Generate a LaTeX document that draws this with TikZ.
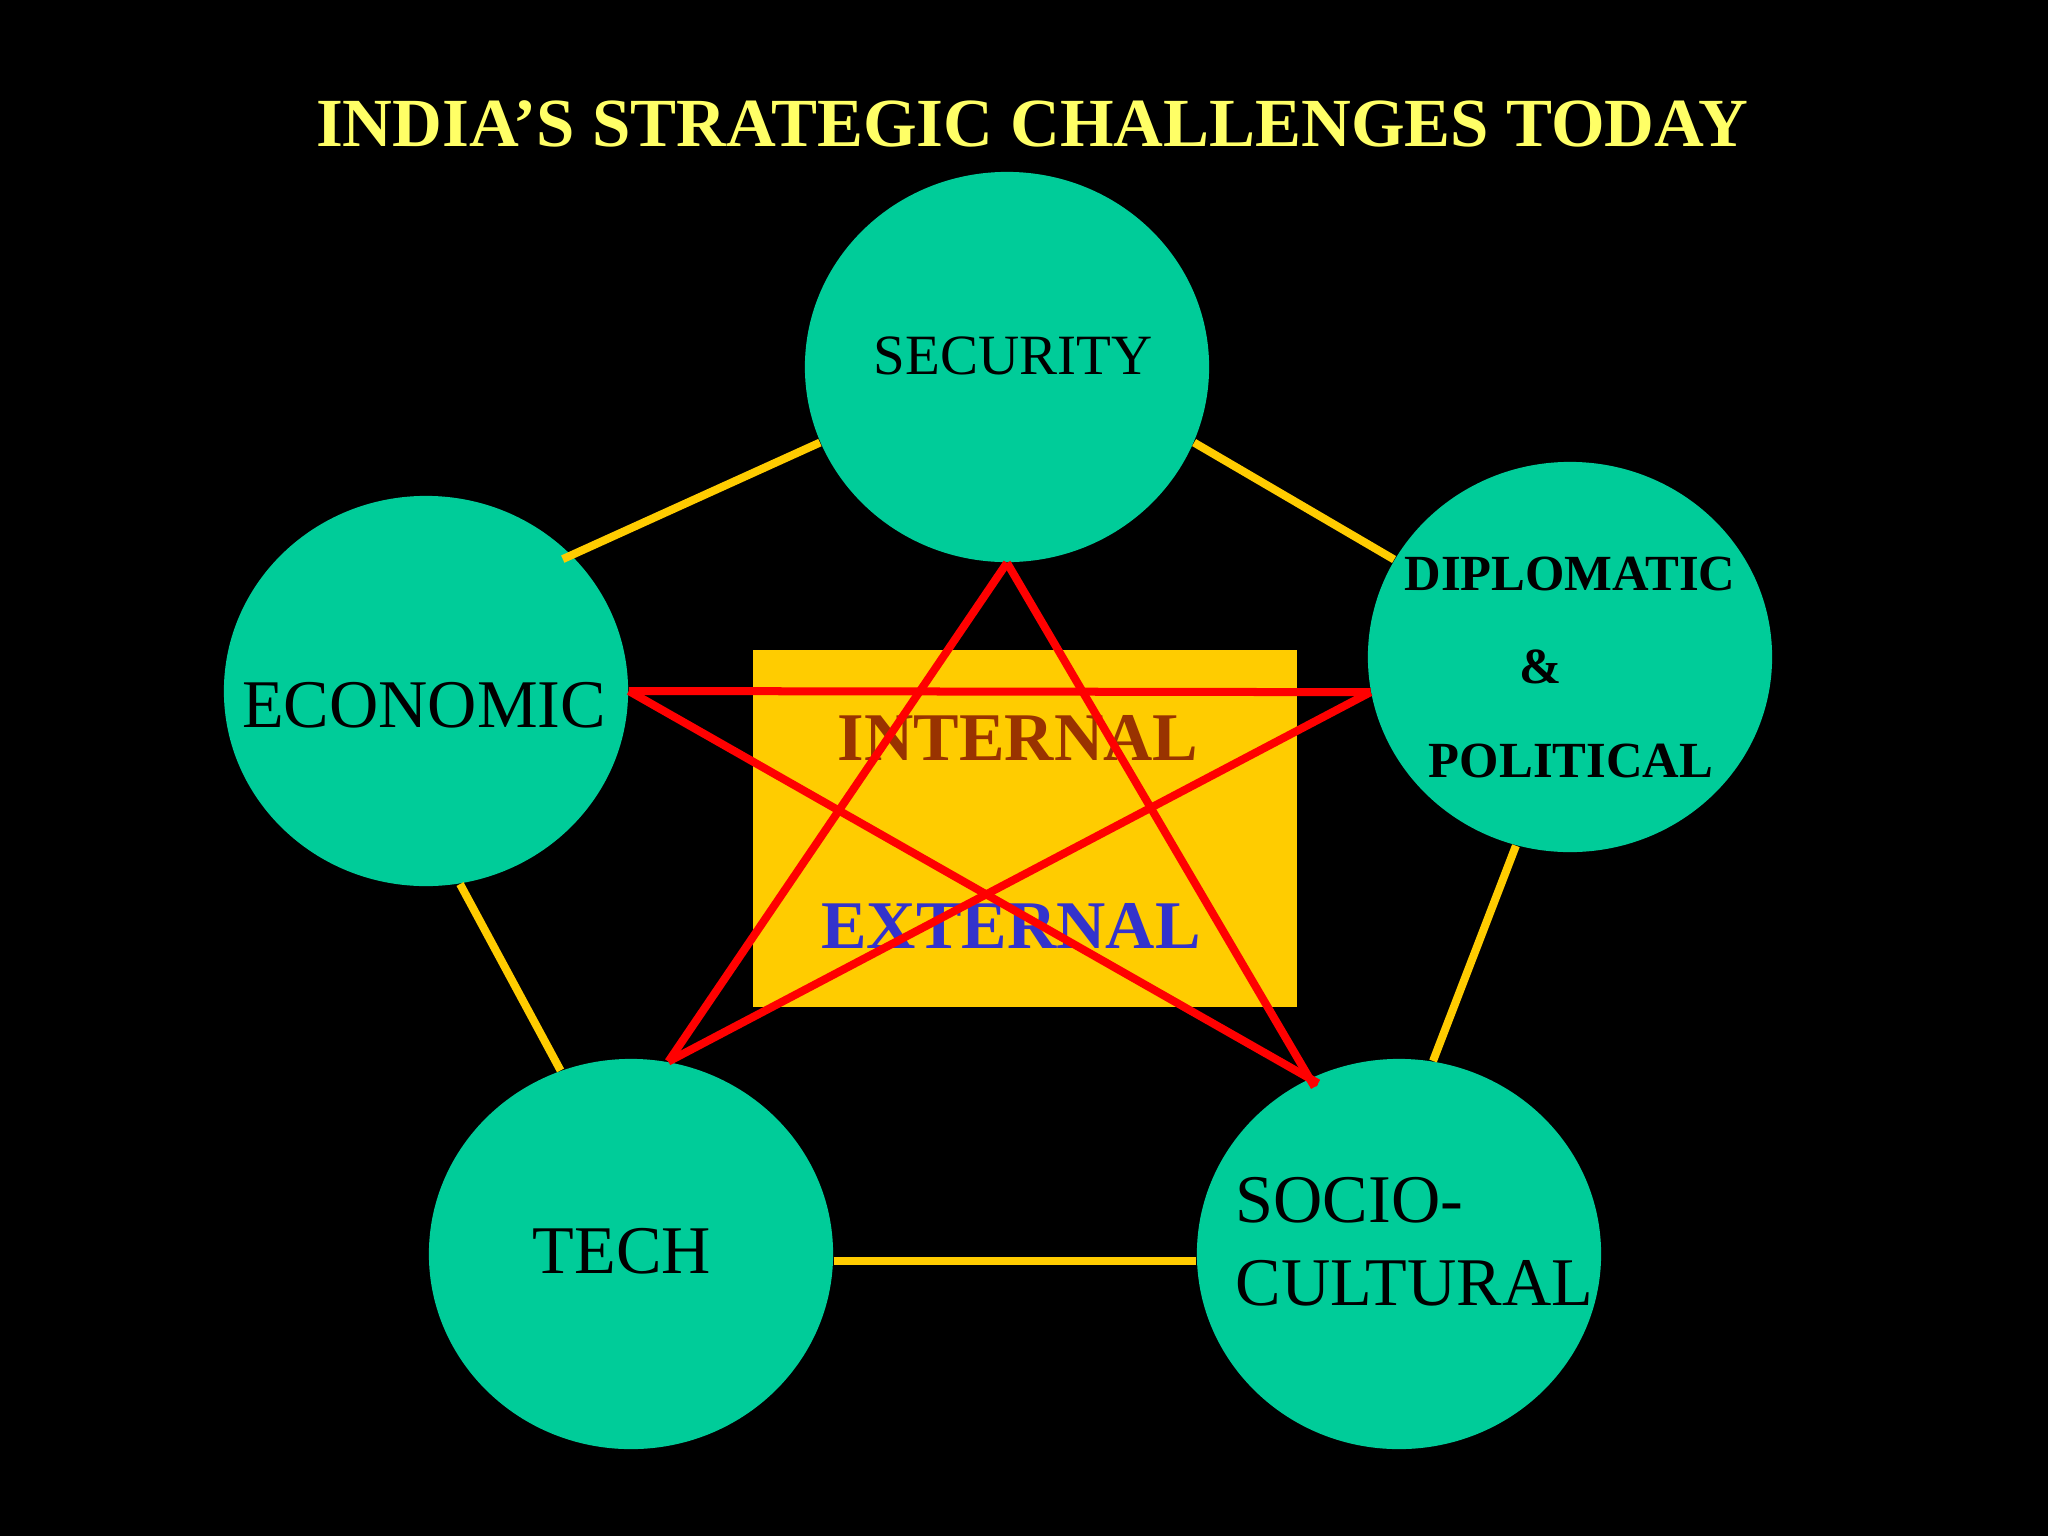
\documentclass[tikz,border=0pt]{standalone}
\usepackage{fontspec}
\setmainfont{Liberation Serif}
\usetikzlibrary{shapes.geometric}
\definecolor{teal1}{RGB}{0,204,153}
\definecolor{gold1}{RGB}{255,204,0}
\definecolor{title1}{RGB}{255,255,102}
\definecolor{brown1}{RGB}{153,51,0}
\definecolor{blue1}{RGB}{51,51,204}
\definecolor{red1}{RGB}{255,0,0}
\tikzset{
  ball/.style={ellipse, fill=teal1, draw=none, inner sep=0pt, minimum width=4.04cm, minimum height=3.90cm},
  lbl/.style={inner sep=0pt, anchor=base, text=black},
  big/.style={font=\fontsize{19.4}{23}\selectfont},
  mid/.style={font=\fontsize{16.2}{19}\selectfont},
  dipf/.style={font=\fontsize{14.4}{17}\selectfont\bfseries},
  link/.style={draw=gold1, line width=0.08cm},
  starline/.style={draw=red1, line width=0.08cm},
}
\begin{document}
\begin{tikzpicture}[x=0.01cm, y=-0.01cm]
\fill[black] (0,0) rectangle (2048,1536);
\useasboundingbox (0,0) rectangle (2048,1536);

% title
\node[inner sep=0pt, anchor=base, text=title1, font=\fontsize{19.6}{23}\selectfont\bfseries] (title) at (1032,146) {INDIA’S STRATEGIC CHALLENGES TODAY};

% central box
\node[fill=gold1, inner sep=0pt, minimum width=5.44cm, minimum height=3.57cm, anchor=north west] (box) at (752,649) {};
\node[inner sep=0pt, anchor=base, text=brown1, font=\fontsize{19.4}{23}\selectfont\bfseries] (internal) at (1018,760) {INTERNAL};
\node[inner sep=0pt, anchor=base, text=blue1, font=\fontsize{19.4}{23}\selectfont\bfseries] (external) at (1011,948) {EXTERNAL};

% circles
\node[ball] (sec) at (1007,367) {};
\node[ball] (eco) at (426,691) {};
\node[ball] (dip) at (1570,657) {};
\node[ball] (tech) at (631,1254) {};
\node[ball] (soc) at (1399,1254) {};

% labels
\node[lbl, mid] (tsec) at (1013,374) {SECURITY};
\node[lbl, big] (teco) at (424,727) {ECONOMIC};
\node[lbl, big] (ttech) at (622,1273) {TECH};
\node[lbl, big, anchor=base west] (tsoc1) at (1235,1222) {SOCIO-};
\node[lbl, big, anchor=base west] (tsoc2) at (1235,1305) {CULTURAL};
\node[lbl, dipf] (tdip1) at (1570,590) {DIPLOMATIC};
\node[lbl, dipf] (tdip2) at (1541,683) {\&};
\node[lbl, dipf] (tdip3) at (1571,777) {POLITICAL};

% yellow links
\draw[link, shorten >=-0.1cm] (sec.202) -- (eco.43);
\draw[link] (sec.338) -- (dip.151);
\draw[link] (dip.254) -- (soc.80);
\draw[link] (eco.280) -- (tech.111);
\draw[link] (tech.-2.5) -- (soc.182.5);

% red star
\draw[starline] (sec.south) -- (tech.79);
\draw[starline, shorten >=-0.1cm] (sec.south) -- (soc.117);
\draw[starline] (eco.east) -- (dip.190);
\draw[starline, shorten >=-0.1cm] (eco.east) -- (soc.117);
\draw[starline] (dip.190) -- (tech.79);
\end{tikzpicture}
\end{document}
